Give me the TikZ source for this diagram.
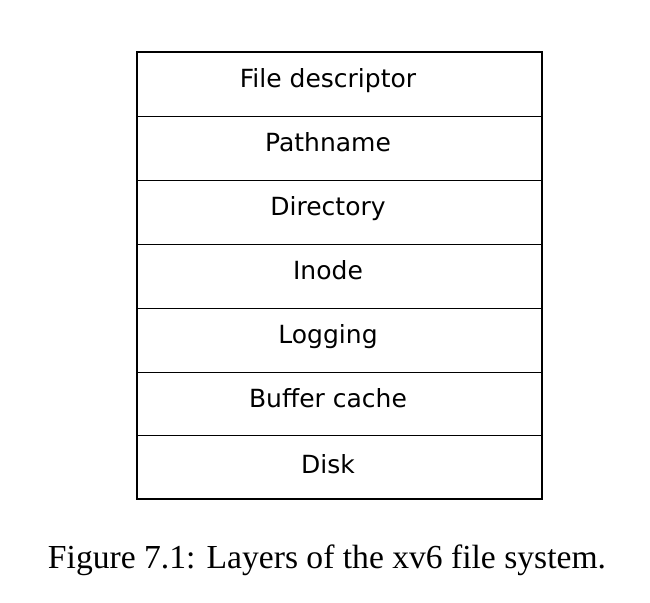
\documentclass[tikz,border=0pt]{standalone}
\usepackage{fontspec}
\setmainfont{Liberation Serif}
\newfontfamily\dv{DejaVu Sans}
\begin{document}
\begin{tikzpicture}[x=1pt,y=-1pt,
  lay/.style={draw=black,line width=0.9pt,minimum width=405pt,minimum height=64pt,inner sep=0pt},
  lab/.style={font=\dv\fontsize{25}{30}\selectfont,text height=18pt,text depth=5pt,inner sep=0pt}]
\useasboundingbox (0,0) rectangle (650,602);
\node[lay] (fd) at (339.5,84) {};
\node[lay] (pn) at (339.5,148) {};
\node[lay] (dir) at (339.5,212) {};
\node[lay] (ino) at (339.5,276) {};
\node[lay] (log) at (339.5,340) {};
\node[lay,minimum height=63pt] (buf) at (339.5,403.5) {};
\node[lay] (disk) at (339.5,467) {};
\node[lab] (t1) at ([xshift=-11.5pt,yshift=3pt]fd.center) {File descriptor};
\node[lab] (t2) at ([xshift=-11.5pt,yshift=3pt]pn.center) {Pathname};
\node[lab] (t3) at ([xshift=-11.5pt,yshift=3pt]dir.center) {Directory};
\node[lab] (t4) at ([xshift=-11.5pt,yshift=3pt]ino.center) {Inode};
\node[lab] (t5) at ([xshift=-11.5pt,yshift=3pt]log.center) {Logging};
\node[lab] (t6) at ([xshift=-11.5pt,yshift=3pt]buf.center) {Buffer cache};
\node[lab] (t7) at ([xshift=-11.5pt,yshift=0pt]disk.center) {Disk};
\draw[line width=1.8pt] (137,52) rectangle (542,499);
\draw[line width=1.6pt] (buf.south west) -- (buf.south east);
\node[font=\fontsize{33.6}{38}\selectfont] (cap) at (327,560) {Figure 7.1: Layers of the xv6 file system.};
\end{tikzpicture}
\end{document}
